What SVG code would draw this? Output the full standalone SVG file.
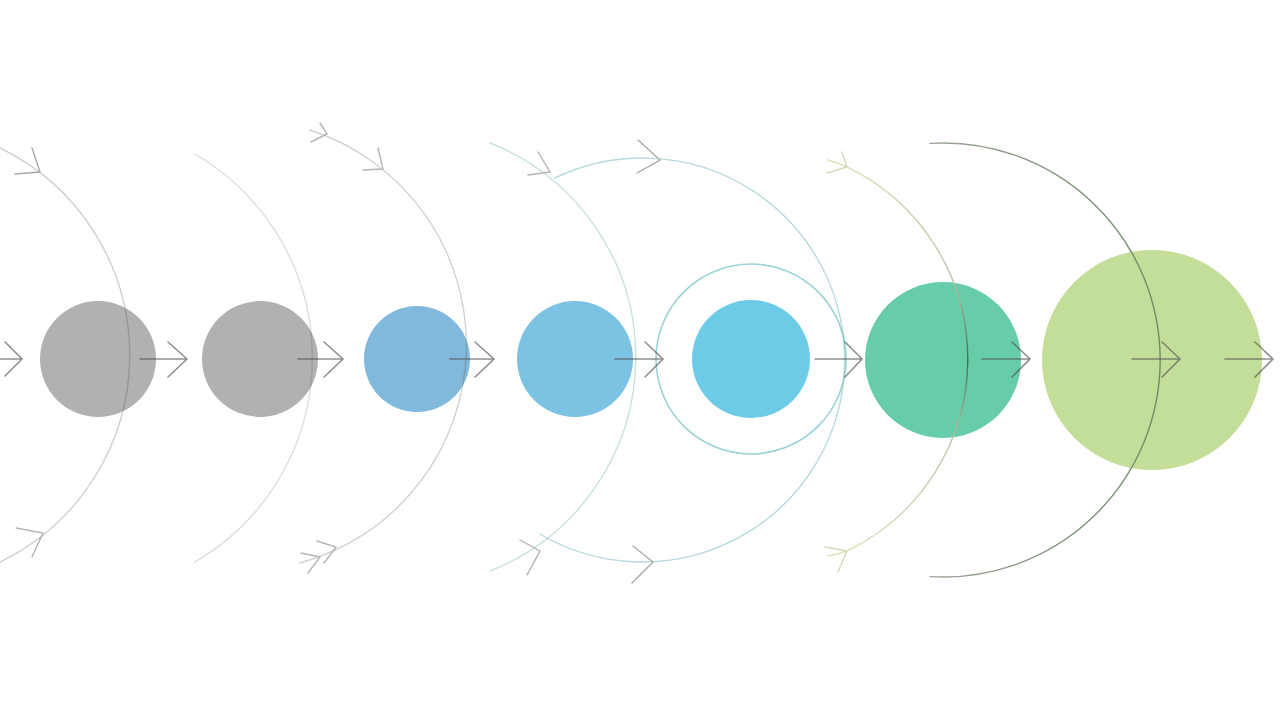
<svg xmlns="http://www.w3.org/2000/svg" width="1280" height="720" viewBox="0 0 1280 720">
<defs>
<style>
.arc{fill:none;stroke-width:1.4;stroke-linecap:round}
.chev{fill:none;stroke-width:1.4;stroke-linecap:round;stroke-linejoin:miter}
.harrow{fill:none;stroke:#555;stroke-opacity:0.65;stroke-width:1.6;stroke-linecap:round}
</style>
<linearGradient id="g6" gradientUnits="userSpaceOnUse" x1="0" y1="160" x2="0" y2="560">
<stop offset="0" stop-color="#dfe3bf"/>
<stop offset="0.3" stop-color="#bfc3ab"/>
<stop offset="0.5" stop-color="#3f6f55"/>
<stop offset="0.7" stop-color="#bfc3ab"/>
<stop offset="1" stop-color="#dfe3bf"/>
</linearGradient>
<linearGradient id="g7" gradientUnits="userSpaceOnUse" x1="930" y1="0" x2="1160" y2="0">
<stop offset="0" stop-color="#9aa596"/>
<stop offset="1" stop-color="#6f8a6a"/>
</linearGradient>
</defs>
<rect width="1280" height="720" fill="#ffffff"/>

<g id="node1"><circle cx="98" cy="359" r="58" fill="#b1b1b1"/></g>
<g id="node2"><circle cx="260" cy="359" r="58" fill="#b1b1b1"/></g>
<g id="node3"><circle cx="417" cy="359" r="53" fill="#80b9db"/></g>
<g id="node4"><circle cx="575" cy="359" r="58" fill="#7cc3e3"/></g>
<g id="node5"><circle cx="751" cy="359" r="59" fill="#6ccbe7"/><circle cx="751" cy="359" r="95" fill="none" stroke="#9ad3d6" stroke-width="1.6"/></g>
<g id="node6"><circle cx="943" cy="360" r="78" fill="#66cda8"/></g>
<g id="node7"><circle cx="1152" cy="360" r="110" fill="#c3de98"/></g>

<g id="connectors">
<!-- arc 1 -->
<path class="arc" d="M0,148 A230,230 0 0 1 0,562" stroke="#444" stroke-opacity="0.25"/>
<path class="chev" d="M32,148 L40,172 L15,174" stroke="#aaa"/>
<path class="chev" d="M16,528 L43,533 L32,557" stroke="#b4b4b4"/>
<!-- arc 2 -->
<path class="arc" d="M195,154 A236,236 0 0 1 195,562" stroke="#444" stroke-opacity="0.18"/>
<!-- arc 3 -->
<path class="arc" d="M310,130 A226,226 0 0 1 300,563" stroke="#5a6050" stroke-opacity="0.28"/>
<path class="chev" d="M320,123 L327,134 L311,142" stroke="#b4b4b4"/>
<path class="chev" d="M378,148 L383,169 L363,170" stroke="#b4b4b4"/>
<path class="chev" d="M317,541 L336,547 L324,563" stroke="#b4b4b4"/>
<path class="chev" d="M301,553 L320,557 L308,573" stroke="#b4b4b4"/>
<!-- arc 4 -->
<path class="arc" d="M490,143 A230,230 0 0 1 490,571" stroke="#5fa8a8" stroke-opacity="0.35"/>
<path class="chev" d="M538,152 L550,172 L528,175" stroke="#b4b4b4"/>
<path class="chev" d="M520,540 L540,551 L527,575" stroke="#b4b4b4"/>
<!-- arc 5 -->
<path class="arc" d="M555,178 A202,202 0 1 1 540,534" stroke="#6fb6bc" stroke-opacity="0.5"/>
<path class="chev" d="M638,140 L660,160 L637,173" stroke="#aaa"/>
<path class="chev" d="M633,546 L653,562 L632,583" stroke="#aaa"/>
<!-- arc 6 -->
<path class="arc" d="M828,160 Q838,163 847,167 A213,213 0 0 1 847,551 Q838,554 828,556" stroke="url(#g6)"/>
<path class="chev" d="M842,152 L847,167 L827,173" stroke="#d6dab8"/>
<path class="chev" d="M825,547 L847,551 L838,572" stroke="#d6dab8"/>
<!-- arc 7 -->
<path class="arc" d="M930,143.4 A217,217 0 1 1 930,576.6" stroke="url(#g7)" stroke-width="1.6"/>

<!-- horizontal arrows -->
<path class="harrow" d="M0,359 L22,359 M5,342 L22,359 L5,376"/>
<path class="harrow" d="M140,359 L187,359 M168,342 L187,359 L168,377"/>
<path class="harrow" d="M298,359 L343,359 M324,342 L343,359 L324,377"/>
<path class="harrow" d="M450,359 L494,359 M475,342 L494,359 L475,377"/>
<path class="harrow" d="M615,359 L663,359 M645,342 L663,359 L645,377"/>
<path class="harrow" d="M815,359 L862,359 M845,342 L862,359 L845,377"/>
<path class="harrow" d="M982,359 L1030,359 M1012,342 L1030,359 L1012,377"/>
<path class="harrow" d="M1132,359 L1180,359 M1162,342 L1180,359 L1162,377"/>
<path class="harrow" d="M1225,359 L1273,359 M1255,342 L1273,359 L1255,377"/>
</g>
</svg>
